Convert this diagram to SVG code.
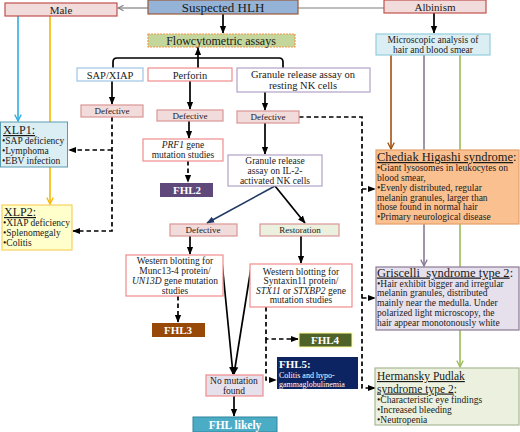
<svg xmlns="http://www.w3.org/2000/svg" width="520" height="432" viewBox="0 0 520 432">
<defs>
<style>
.t{font-family:"Liberation Serif","Times New Roman",serif;fill:#1a1a1a}
.c{text-anchor:middle}
.w{fill:#fff;font-weight:bold}
.u{text-decoration:underline}
.ln{fill:none;stroke:#000;stroke-width:1.7}
.dl{fill:none;stroke:#000;stroke-width:1.7;stroke-dasharray:4.5,3}
.def{fill:#f2dcdb;stroke:#d99694;stroke-width:1.2}
.wb{fill:#fff;stroke:#f08c8c;stroke-width:1.2}
.lav{fill:#fff;stroke:#b3a2c7;stroke-width:1.2}
</style>
<marker id="ab" viewBox="0 0 10 10" refX="9" refY="5" markerWidth="8" markerHeight="8" orient="auto" markerUnits="userSpaceOnUse"><path d="M0,1 L10,5 L0,9 z" fill="#000"/></marker>
<marker id="an" viewBox="0 0 10 10" refX="9" refY="5" markerWidth="8" markerHeight="8" orient="auto" markerUnits="userSpaceOnUse"><path d="M0,1 L10,5 L0,9 z" fill="#1f3864"/></marker>
<marker id="ag" viewBox="0 0 10 10" refX="9" refY="5" markerWidth="7" markerHeight="7" orient="auto" markerUnits="userSpaceOnUse"><path d="M1,1 L9,5 L1,9" fill="none" stroke="#7f7f7f" stroke-width="1.5"/></marker>
<marker id="abl" viewBox="0 0 10 10" refX="9" refY="5" markerWidth="8" markerHeight="8" orient="auto" markerUnits="userSpaceOnUse"><path d="M1,1 L9,5 L1,9" fill="none" stroke="#2eaee0" stroke-width="1.6"/></marker>
<marker id="ay" viewBox="0 0 10 10" refX="9" refY="5" markerWidth="8" markerHeight="8" orient="auto" markerUnits="userSpaceOnUse"><path d="M1,1 L9,5 L1,9" fill="none" stroke="#f5b800" stroke-width="1.6"/></marker>
<marker id="abr" viewBox="0 0 10 10" refX="9" refY="5" markerWidth="8" markerHeight="8" orient="auto" markerUnits="userSpaceOnUse"><path d="M1,1 L9,5 L1,9" fill="none" stroke="#a4500f" stroke-width="1.6"/></marker>
<marker id="ap" viewBox="0 0 10 10" refX="9" refY="5" markerWidth="8" markerHeight="8" orient="auto" markerUnits="userSpaceOnUse"><path d="M1,1 L9,5 L1,9" fill="none" stroke="#8a7a96" stroke-width="1.6"/></marker>
<marker id="agr" viewBox="0 0 10 10" refX="9" refY="5" markerWidth="8" markerHeight="8" orient="auto" markerUnits="userSpaceOnUse"><path d="M1,1 L9,5 L1,9" fill="none" stroke="#9bbb59" stroke-width="1.6"/></marker>
</defs>
<rect width="520" height="432" fill="#fff"/>

<g id="connectors">
<path d="M148,8 H118" fill="none" stroke="#7f7f7f" stroke-width="1.2" marker-end="url(#ag)"/>
<path d="M298,8 H384" fill="none" stroke="#7f7f7f" stroke-width="1.2"/>
<path d="M223,14 V33" class="ln" marker-end="url(#ab)"/>
<path d="M198,58 V48" class="ln" marker-end="url(#ab)"/>
<path d="M113,68 V62 Q113,58 117,58 H279 Q283,58 283,62 V68 M198,58 V68" class="ln"/>
<path d="M112,81 V104" class="ln" marker-end="url(#ab)"/>
<path d="M190,81 V109" class="ln" marker-end="url(#ab)"/>
<path d="M189,121 V138" class="ln" marker-end="url(#ab)"/>
<path d="M188,161 V182" class="dl" marker-end="url(#ab)"/>
<path d="M265,92 V110" class="ln" marker-end="url(#ab)"/>
<path d="M265,123 V154" class="ln" marker-end="url(#ab)"/>
<path d="M275,186 L207,223" fill="none" stroke="#1f3864" stroke-width="1.5" marker-end="url(#an)"/>
<path d="M275,186 L305,223" class="ln" marker-end="url(#ab)"/>
<path d="M190,236 V254" class="ln" marker-end="url(#ab)"/>
<path d="M178,296 V322" class="dl" marker-end="url(#ab)"/>
<path d="M301,236 V263" class="ln" marker-end="url(#ab)"/>
<path d="M266,307 V339 H298" class="dl" marker-end="url(#ab)"/>
<path d="M266,339 V380 H276" class="dl" marker-end="url(#ab)"/>
<path d="M222,262 L233,374" class="ln" marker-end="url(#ab)"/>
<path d="M251,268 L234,374" class="ln" marker-end="url(#ab)"/>
<path d="M234,396 V416" class="ln" marker-end="url(#ab)"/>
<path d="M18,16 V121" fill="none" stroke="#2eaee0" stroke-width="1.6" marker-end="url(#abl)"/>
<path d="M50,16 V204" fill="none" stroke="#f5b800" stroke-width="1.6" marker-end="url(#ay)"/>
<path d="M112,117 V231 H73" class="dl" marker-end="url(#ab)"/>
<path d="M112,150 H69" class="dl" marker-end="url(#ab)"/>
<path d="M299,117 H362 V388 H375" class="dl" marker-end="url(#ab)"/>
<path d="M362,189 H375" class="dl" marker-end="url(#ab)"/>
<path d="M362,298 H375" class="dl" marker-end="url(#ab)"/>
<path d="M434,13 V33" class="ln" marker-end="url(#ab)"/>
<path d="M391,55 V149" fill="none" stroke="#a4500f" stroke-width="1.6" marker-end="url(#abr)"/>
<path d="M424,55 V266" fill="none" stroke="#8a7a96" stroke-width="1.6" marker-end="url(#ap)"/>
<path d="M460,55 V367" fill="none" stroke="#9bbb59" stroke-width="1.6" marker-end="url(#agr)"/>
</g>

<g id="male"><rect x="5" y="3" width="112" height="13" fill="#f2dcdb" stroke="#c0504d" stroke-width="1.2"/><text class="t c" x="61" y="13.5" font-size="11">Male</text></g>
<g id="suspected"><rect x="148" y="0" width="150" height="14" fill="#95b3d7" stroke="#9b5a3a" stroke-width="1.2"/><text class="t c" x="223" y="11.5" font-size="13">Suspected HLH</text></g>
<g id="albinism"><rect x="384" y="0" width="102" height="13" fill="#f2dcdb" stroke="#c0504d" stroke-width="1.2"/><text class="t c" x="435" y="10.5" font-size="11">Albinism</text></g>
<g id="flow"><rect x="148" y="34" width="147" height="13" fill="#c3d69b" stroke="#f79646" stroke-width="1.2" stroke-dasharray="2,1"/><text class="t c" x="221" y="45" font-size="12">Flowcytometric assays</text></g>
<g id="sapxiap"><rect x="77" y="68" width="66" height="13" fill="#fff" stroke="#9dc3e6" stroke-width="1.2"/><text class="t c" x="110" y="78.5" font-size="10.5">SAP/XIAP</text></g>
<g id="perforin"><rect x="148" y="68" width="84" height="13" class="wb"/><text class="t c" x="190" y="78.5" font-size="10.5">Perforin</text></g>
<g id="granule-rest"><rect x="237" y="68" width="133" height="24" class="lav"/><text class="t c" x="303" y="78" font-size="10.5">Granule release assay on</text><text class="t c" x="303" y="89" font-size="10.5">resting NK cells</text></g>
<g id="def1"><rect x="81" y="105" width="62" height="12" class="def"/><text class="t c" x="112" y="114" font-size="9">Defective</text></g>
<g id="def2"><rect x="157" y="110" width="66" height="11" class="def"/><text class="t c" x="190" y="118.5" font-size="9">Defective</text></g>
<g id="def3"><rect x="237" y="111" width="62" height="12" class="def"/><text class="t c" x="268" y="120" font-size="9">Defective</text></g>
<g id="prf1"><rect x="143" y="139" width="80" height="22" class="wb"/><text class="t c" x="183" y="148" font-size="9.5"><tspan font-style="italic">PRF1</tspan> gene</text><text class="t c" x="183" y="158" font-size="9.5">mutation studies</text></g>
<g id="fhl2"><rect x="160" y="183" width="53" height="14" fill="#5f497a"/><text class="t c w" x="187" y="194" font-size="11">FHL2</text></g>
<g id="granule-il2"><rect x="228" y="155" width="94" height="31" class="lav"/><text class="t c" x="275" y="164" font-size="9.5">Granule release</text><text class="t c" x="275" y="174" font-size="9.5">assay on IL-2-</text><text class="t c" x="275" y="184" font-size="9.5">activated NK cells</text></g>
<g id="def4"><rect x="170" y="224" width="67" height="12" class="def"/><text class="t c" x="203" y="233" font-size="9">Defective</text></g>
<g id="restoration"><rect x="260" y="224" width="79" height="12" fill="#ebf1de" stroke="#d99694" stroke-width="1.2"/><text class="t c" x="300" y="233" font-size="9">Restoration</text></g>
<g id="munc"><rect x="126" y="255" width="97" height="41" class="wb"/><text class="t c" x="175" y="264" font-size="9.5">Western blotting for</text><text class="t c" x="175" y="274" font-size="9.5">Munc13-4 protein/</text><text class="t c" x="175" y="284" font-size="9.5"><tspan font-style="italic">UN13D</tspan> gene mutation</text><text class="t c" x="175" y="294" font-size="9.5">studies</text></g>
<g id="fhl3"><rect x="152" y="323" width="53" height="14" fill="#984807"/><text class="t c w" x="178" y="334" font-size="11">FHL3</text></g>
<g id="syntaxin"><rect x="250" y="264" width="102" height="43" class="wb"/><text class="t c" x="301" y="274.5" font-size="9.5">Western blotting for</text><text class="t c" x="301" y="284" font-size="9.5">Syntaxin11 protein/</text><text class="t c" x="301" y="293.5" font-size="9.5"><tspan font-style="italic">STX11</tspan> or <tspan font-style="italic">STXBP2</tspan> gene</text><text class="t c" x="301" y="303" font-size="9.5">mutation studies</text></g>
<g id="fhl4"><rect x="299" y="333" width="53" height="14" fill="#4f6228" stroke="#ffff99" stroke-width="1"/><text class="t c w" x="325" y="344" font-size="11">FHL4</text></g>
<g id="fhl5"><rect x="277" y="357" width="81" height="32" fill="#0c2461"/><text class="t w" x="279" y="368" font-size="11">FHL5:</text><text class="t" x="279" y="378" font-size="8" style="fill:#fff">Colitis and hypo-</text><text class="t" x="279" y="387" font-size="8" style="fill:#fff">gammaglobulinemia</text></g>
<g id="nomutation"><rect x="206" y="375" width="57" height="21" fill="#e6e0ec" stroke="#f08c8c" stroke-width="1.2"/><text class="t c" x="234" y="384" font-size="9.5">No mutation</text><text class="t c" x="234" y="394" font-size="9.5">found</text></g>
<g id="fhllikely"><rect x="193" y="417" width="84" height="15" fill="#4bacc6" stroke="#31859c" stroke-width="1"/><text class="t c w" x="235" y="429" font-size="11.5">FHL likely</text></g>
<g id="xlp1"><rect x="0.5" y="122" width="67" height="45" fill="#dbeef4" stroke="#5b9bb0" stroke-width="1"/><text class="t u" x="3" y="134" font-size="12">XLP1:</text><text class="t" x="2" y="144" font-size="9.5">•SAP deficiency</text><text class="t" x="2" y="154" font-size="9.5">•Lymphoma</text><text class="t" x="2" y="164" font-size="9.5">•EBV infection</text></g>
<g id="xlp2"><rect x="2" y="205" width="70" height="45" fill="#ffffcc" stroke="#f5c842" stroke-width="1"/><text class="t u" x="4" y="216" font-size="12">XLP2:</text><text class="t" x="3" y="226" font-size="9.5">•XIAP deficiency</text><text class="t" x="3" y="236" font-size="9.5">•Splenomegaly</text><text class="t" x="3" y="246" font-size="9.5">•Colitis</text></g>
<g id="microscopic"><rect x="376" y="34" width="114" height="21" fill="#dbeef4" stroke="#93cddd" stroke-width="1.2"/><text class="t c" x="433" y="43" font-size="9.5">Microscopic analysis of</text><text class="t c" x="433" y="53" font-size="9.5">hair and blood smear</text></g>
<g id="chediak"><rect x="376" y="150" width="143" height="74" fill="#fac090" stroke="#e5a06a" stroke-width="1.2"/><text class="t" x="377" y="161" font-size="12.5"><tspan class="u">Chediak Higashi syndrome</tspan>:</text><text class="t" x="377" y="171" font-size="9.5">•Giant lysosomes in leukocytes on</text><text class="t" x="377" y="181" font-size="9.5">blood smear,</text><text class="t" x="377" y="191" font-size="9.5">•Evenly distributed, regular</text><text class="t" x="377" y="200.5" font-size="9.5">melanin granules, larger than</text><text class="t" x="377" y="210" font-size="9.5">those found in normal hair</text><text class="t" x="377" y="220" font-size="9.5">•Primary neurological disease</text></g>
<g id="griscelli"><rect x="376" y="267" width="143" height="63" fill="#e6e0ec" stroke="#8a7a96" stroke-width="1.2"/><text class="t" x="377" y="276.5" font-size="12.5" xml:space="preserve"><tspan class="u">Griscelli  syndrome type 2</tspan>:</text><text class="t" x="377" y="286.5" font-size="9.5">•Hair exhibit bigger and irregular</text><text class="t" x="377" y="296" font-size="9.5">melanin granules, distributed</text><text class="t" x="377" y="306" font-size="9.5">mainly near the medulla. Under</text><text class="t" x="377" y="316" font-size="9.5">polarized light microscopy, the</text><text class="t" x="377" y="326" font-size="9.5">hair appear monotonously white</text></g>
<g id="hermansky"><rect x="375" y="368" width="144" height="57" fill="#ebf1de" stroke="#a9b896" stroke-width="1.2"/><text class="t u" x="377" y="380" font-size="11.5">Hermansky Pudlak</text><text class="t" x="377" y="392.5" font-size="11.5"><tspan class="u">syndrome type 2</tspan>:</text><text class="t" x="377" y="402.5" font-size="9.5">•Characteristic eye findings</text><text class="t" x="377" y="412.5" font-size="9.5">•Increased bleeding</text><text class="t" x="377" y="422.5" font-size="9.5">•Neutropenia</text></g>
</svg>
